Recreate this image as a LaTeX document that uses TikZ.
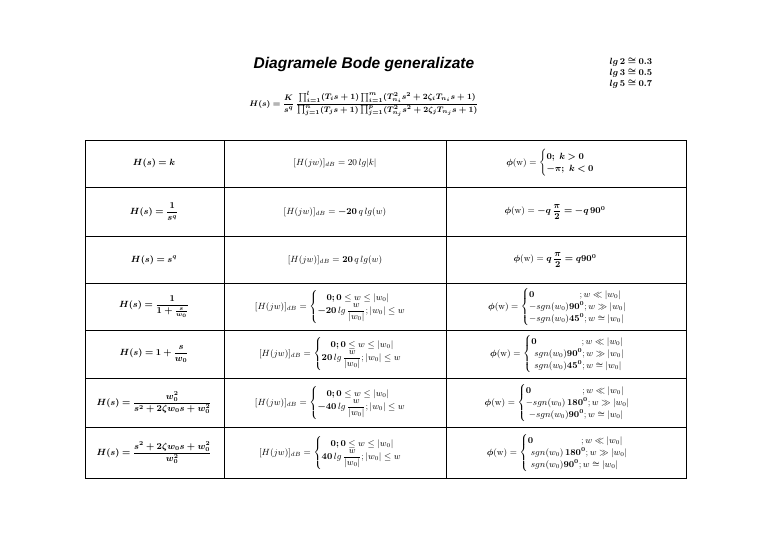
\documentclass[tikz,border=0pt]{standalone}
\usepackage{amsmath,amssymb,bm}
\usepackage{fontspec}
\newfontfamily\titlefont{Liberation Sans}
\begin{document}
\begin{tikzpicture}[x=1pt,y=-1pt,cell/.style={font=\fontsize{9}{10}\selectfont,inner sep=0pt}]
\useasboundingbox (0,0) rectangle (768,543);
\node[font=\titlefont\bfseries\itshape\fontsize{15.5}{18}\selectfont] (title) at (364,64) {Diagramele Bode generalizate};
\node[cell,align=left] (lg) at (631,73) {$\bm{lg\,2\cong 0.3}$\\[1pt]$\bm{lg\,3\cong 0.5}$\\[1pt]$\bm{lg\,5\cong 0.7}$};
\node[cell,font=\fontsize{8.5}{10}\selectfont] (hs) at (364,104) {$\bm{H(s)=\dfrac{K}{s^q}\,\dfrac{\prod_{i=1}^{l}(T_i s+1)\prod_{i=1}^{m}(T_{n_i}^2s^2+2\zeta_iT_{n_i}s+1)}{\prod_{j=1}^{n}(T_j s+1)\prod_{j=1}^{p}(T_{n_j}^2s^2+2\zeta_jT_{n_j}s+1)}}$};
\draw[line width=0.8pt] (85,140) rectangle (686,478);
\foreach \x in {224,446} \draw[line width=0.8pt] (\x,140) -- (\x,478);
\foreach \y in {187,236,283,330,378,427} \draw[line width=0.8pt] (85,\y) -- (686,\y);
% row 1
\node[cell] (a1) at (154,163) {$\bm{H(s)=k}$};
\node[cell] (b1) at (335,163) {$[H(jw)]_{dB}=20\,lg|k|$};
\node[cell] (c1) at (555,163) {$\bm{\phi}(\mathrm{w})=\begin{cases}\bm{0;\ k>0}\\ \bm{-\pi;\ k<0}\end{cases}$};
% row 2
\node[cell] (a2) at (154,212) {$\bm{H(s)=\dfrac{1}{s^q}}$};
\node[cell] (b2) at (335,212) {$[H(jw)]_{dB}=\bm{-20}\,q\,lg(w)$};
\node[cell] (c2) at (555,212) {$\bm{\phi}(\mathrm{w})=\bm{-q\,\dfrac{\pi}{2}=-q\,90^0}$};
% row 3
\node[cell] (a3) at (154,260) {$\bm{H(s)=s^q}$};
\node[cell] (b3) at (335,260) {$[H(jw)]_{dB}=\bm{20}\,q\,lg(w)$};
\node[cell] (c3) at (555,260) {$\bm{\phi}(\mathrm{w})=\bm{q\,\dfrac{\pi}{2}=q90^0}$};
% row 4
\node[cell] (a4) at (154,307) {$\bm{H(s)=\dfrac{1}{1+\frac{s}{w_0}}}$};
\node[cell] (b4) at (335,307) {$[H(jw)]_{dB}=\begin{cases}\quad\bm{0;0}\le w\le|w_0|\\ \bm{-20}\,lg\,\dfrac{w}{|w_0|};|w_0|\le w\end{cases}$};
\node[cell] (c4) at (562,307) {$\bm{\phi}(\mathrm{w})=\begin{cases}\bm{0}\qquad\qquad\quad;w\ll|w_0|\\ -sgn(w_0)\bm{90^0};w\gg|w_0|\\ -sgn(w_0)\bm{45^0};w\cong|w_0|\end{cases}$};
% row 5
\node[cell] (a5) at (154,354) {$\bm{H(s)=1+\dfrac{s}{w_0}}$};
\node[cell] (b5) at (335,354) {$[H(jw)]_{dB}=\begin{cases}\quad\bm{0;0}\le w\le|w_0|\\ \bm{20}\,lg\,\dfrac{w}{|w_0|};|w_0|\le w\end{cases}$};
\node[cell] (c5) at (562,354) {$\bm{\phi}(\mathrm{w})=\begin{cases}\bm{0}\qquad\qquad\quad;w\ll|w_0|\\ \ sgn(w_0)\bm{90^0};w\gg|w_0|\\ \ sgn(w_0)\bm{45^0};w\cong|w_0|\end{cases}$};
% row 6
\node[cell] (a6) at (154,403) {$\bm{H(s)=\dfrac{w_0^2}{s^2+2\zeta w_0s+w_0^2}}$};
\node[cell] (b6) at (335,403) {$[H(jw)]_{dB}=\begin{cases}\quad\bm{0;0}\le w\le|w_0|\\ \bm{-40}\,lg\,\dfrac{w}{|w_0|};|w_0|\le w\end{cases}$};
\node[cell] (c6) at (562,403) {$\bm{\phi}(\mathrm{w})=\begin{cases}\bm{0}\qquad\qquad\quad\ \ ;w\ll|w_0|\\ -sgn(w_0)\,\bm{180^0};w\gg|w_0|\\ \ -sgn(w_0)\bm{90^0};w\cong|w_0|\end{cases}$};
% row 7
\node[cell] (a7) at (154,453) {$\bm{H(s)=\dfrac{s^2+2\zeta w_0s+w_0^2}{w_0^2}}$};
\node[cell] (b7) at (335,453) {$[H(jw)]_{dB}=\begin{cases}\quad\bm{0;0}\le w\le|w_0|\\ \bm{40}\,lg\,\dfrac{w}{|w_0|};|w_0|\le w\end{cases}$};
\node[cell] (c7) at (562,453) {$\bm{\phi}(\mathrm{w})=\begin{cases}\bm{0}\qquad\qquad\quad\ ;w\ll|w_0|\\ \ sgn(w_0)\,\bm{180^0};w\gg|w_0|\\ \ sgn(w_0)\bm{90^0};w\cong|w_0|\end{cases}$};
\end{tikzpicture}
\end{document}
